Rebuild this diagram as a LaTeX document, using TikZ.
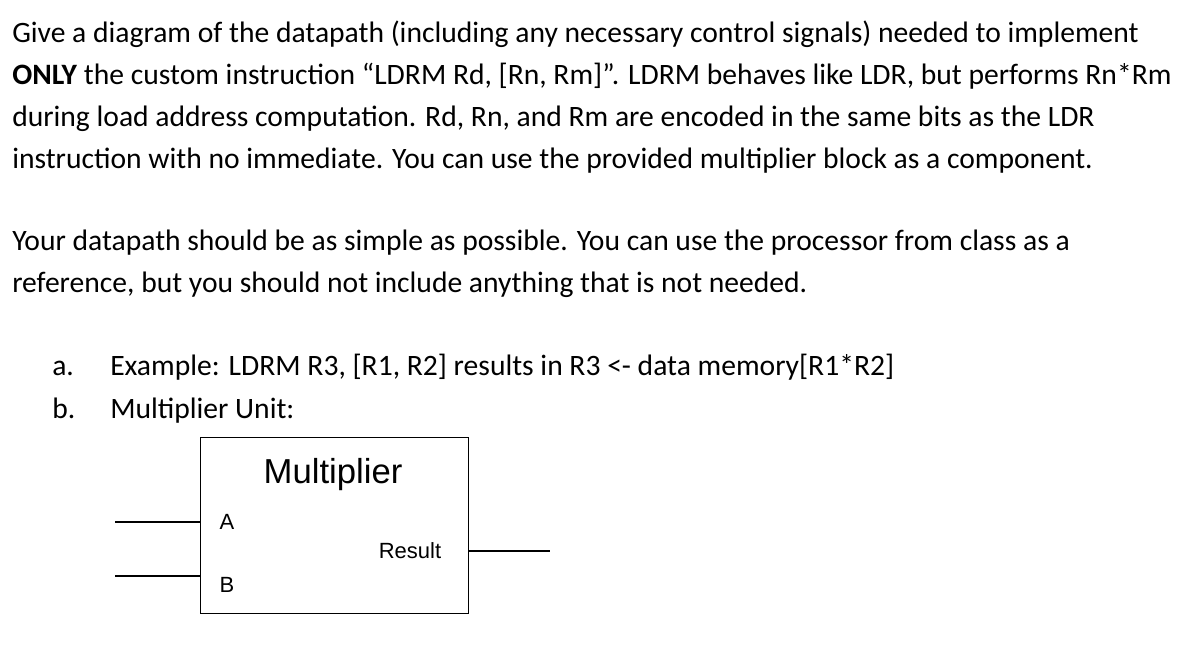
\documentclass[tikz,border=0pt]{standalone}
\usepackage{fontspec}
\setmainfont{Carlito}
\newfontfamily\arialf{Liberation Sans}
\begin{document}
\begin{tikzpicture}[x=0.75pt,y=-0.75pt,
  para/.style={anchor=base west,inner sep=0pt,font=\fontsize{22.2}{26}\selectfont},
  lab/.style={inner sep=0pt,font=\arialf\fontsize{16.5}{18}\selectfont},
  wire/.style={line width=0.8pt}]
\useasboundingbox (0,0) rectangle (1200,650);
\node[para] (l1) at (12,42) {Give a diagram of the datapath (including any necessary control signals) needed to implement};
\node[para] (l2) at (12,84) {\textbf{ONLY} the custom instruction “LDRM Rd, [Rn, Rm]”. LDRM behaves like LDR, but performs Rn*Rm};
\node[para] (l3) at (12,126) {during load address computation. Rd, Rn, and Rm are encoded in the same bits as the LDR};
\node[para] (l4) at (12,168) {instruction with no immediate. You can use the provided multiplier block as a component.};
\node[para] (l5) at (12,250) {Your datapath should be as simple as possible. You can use the processor from class as a};
\node[para] (l6) at (12,292) {reference, but you should not include anything that is not needed.};
\node[para] (ia) at (52,375) {a.};
\node[para] (ta) at (110,375) {Example: LDRM R3, [R1, R2] results in R3 <- data memory[R1*R2]};
\node[para] (ib) at (52,418) {b.};
\node[para] (tb) at (110,418) {Multiplier Unit:};
\node[draw,line width=0.8pt,minimum width=268*0.75pt,minimum height=176*0.75pt,anchor=north west,inner sep=0pt] (box) at (200,437) {};
\node[lab,font=\arialf\fontsize{26}{28}\selectfont] (title) at (333,475) {Multiplier};
\node[lab] (A) at (227,522) {A};
\node[lab] (B) at (227,585) {B};
\node[lab] (R) at (410,551) {Result};
\coordinate (ia0) at (115,522); \coordinate (ia1) at (200,522);
\coordinate (ib0) at (115,576); \coordinate (ib1) at (200,576);
\coordinate (o0) at (468,551); \coordinate (o1) at (550,551);
\draw[wire] (ia0) -- (ia1);
\draw[wire] (ib0) -- (ib1);
\draw[wire] (o0) -- (o1);
\end{tikzpicture}
\end{document}
